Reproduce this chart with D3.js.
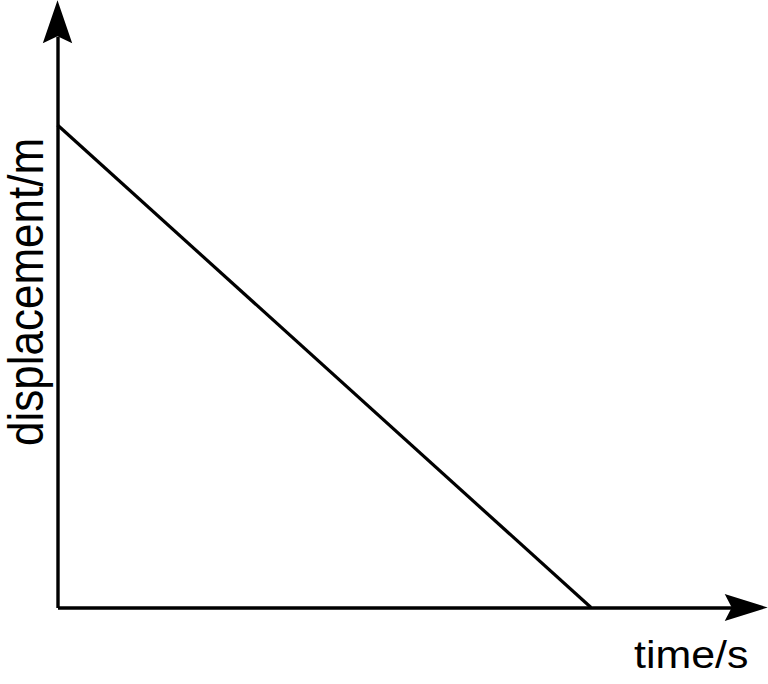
<!DOCTYPE html>
<html>
<head>
<meta charset="utf-8">
<script src="https://cdn.jsdelivr.net/npm/d3@7"></script>
<style>
  html, body { margin: 0; padding: 0; background: #fff; }
  svg { display: block; }
  text { font-family: "Liberation Sans", Arial, sans-serif; fill: #000; }
</style>
</head>
<body>
<div id="chart"></div>
<script>
// schematic displacement-time graph (no tick values on the original)
const times = [0, 8];
const displacements = [6, 0];
const axisMax = { time: 10.65, displacement: 7.55 };
const labels = { x: 'time/s', y: 'displacement/m' };

const width = 768;
const height = 684;
const origin = { x: 57.5, y: 607.5 };

const svg = d3.select('#chart').append('svg')
    .attr('width', width)
    .attr('height', height);

const scaleX = d3.scaleLinear().domain([0, 8]).range([origin.x, 591]);
const scaleY = d3.scaleLinear().domain([0, 6]).range([origin.y, 125]);

// axes: bare domain lines, no ticks
const axisX = d3.axisBottom(scaleX.copy().domain([0, axisMax.time]).range([origin.x, scaleX(axisMax.time) - 36]))
    .tickValues([]).tickSizeOuter(0);
const axisY = d3.axisLeft(scaleY.copy().domain([0, axisMax.displacement]).range([origin.y, scaleY(axisMax.displacement) + 36]))
    .tickValues([]).tickSizeOuter(0);

svg.append('g')
    .attr('transform', `translate(0, ${origin.y})`)
    .call(axisX)
    .call(g => g.select('.domain').attr('stroke', '#000').attr('stroke-width', 3.4));

svg.append('g')
    .attr('transform', `translate(${origin.x}, 0)`)
    .call(axisY)
    .call(g => g.select('.domain').attr('stroke', '#000').attr('stroke-width', 3.4));

// arrow heads (notched), slightly wider across x because the original is stretched
const arrowX = d3.path();
const tipX = scaleX(axisMax.time);
arrowX.moveTo(tipX, origin.y);
arrowX.lineTo(tipX - 43, origin.y - 13.5);
arrowX.lineTo(tipX - 36, origin.y);
arrowX.lineTo(tipX - 43, origin.y + 13.5);
arrowX.closePath();
svg.append('path').attr('d', arrowX.toString()).attr('fill', '#000');

const arrowY = d3.path();
const tipY = scaleY(axisMax.displacement);
arrowY.moveTo(origin.x, tipY);
arrowY.lineTo(origin.x - 14.7, tipY + 43);
arrowY.lineTo(origin.x, tipY + 36);
arrowY.lineTo(origin.x + 14.7, tipY + 43);
arrowY.closePath();
svg.append('path').attr('d', arrowY.toString()).attr('fill', '#000');

// the graph line
const line = d3.line()
    .x(d => scaleX(d[0]))
    .y(d => scaleY(d[1]));

svg.append('path')
    .datum(d3.zip(times, displacements))
    .attr('d', line)
    .attr('fill', 'none')
    .attr('stroke', '#000')
    .attr('stroke-width', 3.2);

// axis titles
svg.append('text')
    .attr('transform', 'translate(634, 668) scale(1.13, 1)')
    .attr('font-size', 38)
    .text(labels.x);

svg.append('text')
    .attr('transform', 'translate(43, 446) scale(1.13, 1) rotate(-90)')
    .attr('font-size', 44)
    .text(labels.y);
</script>
</body>
</html>
